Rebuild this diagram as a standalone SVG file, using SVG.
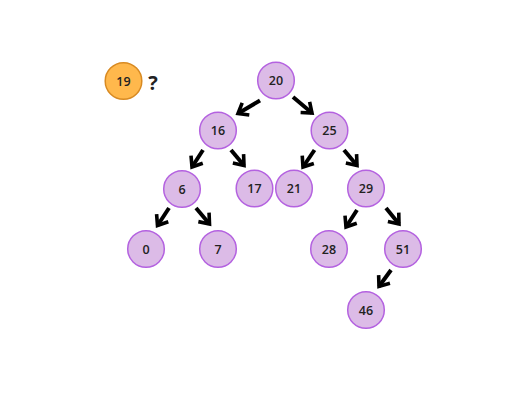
<svg xmlns="http://www.w3.org/2000/svg" width="528" height="408" viewBox="0 0 528 408">
<defs>
<style>
.n circle{fill:#dcbbe7;stroke:#b462e0;stroke-width:1.5}
.o circle{fill:#ffb84c;stroke:#d88a22;stroke-width:1.5}
text{font-family:"Open Sans","Noto Sans",sans-serif;font-size:12.5px;font-weight:600;fill:#222;text-anchor:middle;dominant-baseline:central}
.q{font-size:20px;font-weight:700}
.e line{stroke:#000;stroke-width:4;marker-end:url(#ah)}
</style>
<marker id="ah" markerUnits="userSpaceOnUse" markerWidth="20" markerHeight="20" viewBox="-12 -10 16 20" refX="0" refY="0" orient="auto">
<path d="M-9,-7 L0,0 L-9,7" fill="none" stroke="#000" stroke-width="3.6"/>
</marker>
</defs>
<g id="edges" class="e">
<line x1="260" y1="100.5" x2="238" y2="113.5"/>
<line x1="293" y1="97" x2="312" y2="113"/>
<line x1="203" y1="150" x2="192" y2="167"/>
<line x1="231" y1="150" x2="244" y2="165.5"/>
<line x1="169" y1="208" x2="157.5" y2="225.5"/>
<line x1="196" y1="208" x2="209.5" y2="224"/>
<line x1="314.5" y1="150" x2="303" y2="167"/>
<line x1="344" y1="150" x2="357" y2="165.5"/>
<line x1="357" y1="210" x2="346" y2="227"/>
<line x1="386" y1="208" x2="399" y2="224"/>
<line x1="391" y1="270" x2="379" y2="286.5"/>
</g>
<g id="n19" class="o"><circle cx="123.5" cy="81" r="18.3"/><text x="123.5" y="81">19</text></g>
<text class="q" x="153" y="82">?</text>
<g id="n20" class="n"><circle cx="276" cy="80.5" r="18.3"/><text x="276" y="80.5">20</text></g>
<g id="n16" class="n"><circle cx="218" cy="130.5" r="18.3"/><text x="218" y="130.5">16</text></g>
<g id="n25" class="n"><circle cx="329.5" cy="130.5" r="18.3"/><text x="329.5" y="130.5">25</text></g>
<g id="n6" class="n"><circle cx="182" cy="189" r="18.3"/><text x="182" y="189">6</text></g>
<g id="n17" class="n"><circle cx="254.5" cy="188.5" r="18.3"/><text x="254.5" y="188.5">17</text></g>
<g id="n21" class="n"><circle cx="294" cy="188.5" r="18.3"/><text x="294" y="188.5">21</text></g>
<g id="n29" class="n"><circle cx="366" cy="188.5" r="18.3"/><text x="366" y="188.5">29</text></g>
<g id="n0" class="n"><circle cx="146" cy="249" r="18.3"/><text x="146" y="249">0</text></g>
<g id="n7" class="n"><circle cx="218" cy="249" r="18.3"/><text x="218" y="249">7</text></g>
<g id="n28" class="n"><circle cx="329" cy="249" r="18.3"/><text x="329" y="249">28</text></g>
<g id="n51" class="n"><circle cx="403" cy="249" r="18.3"/><text x="403" y="249">51</text></g>
<g id="n46" class="n"><circle cx="366" cy="310" r="18.3"/><text x="366" y="310">46</text></g>
</svg>
